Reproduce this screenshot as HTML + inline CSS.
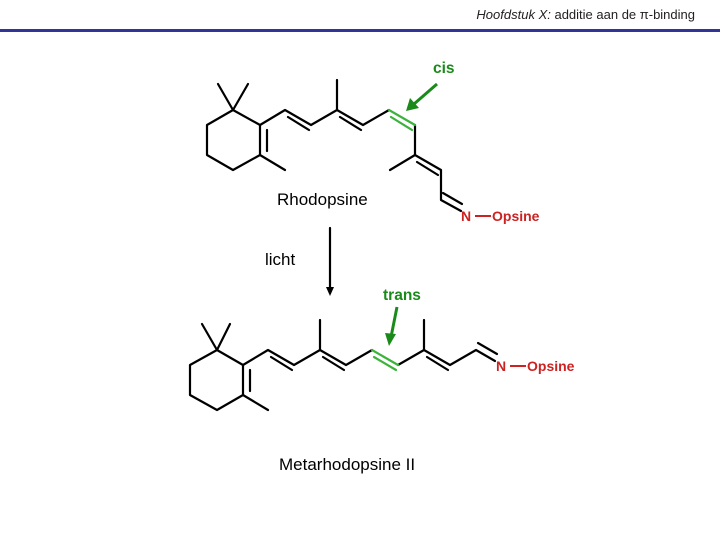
<!DOCTYPE html>
<html><head><meta charset="utf-8"><style>
html,body{margin:0;padding:0;background:#fff;}
svg{display:block;}
</style></head><body>
<svg width="720" height="540" viewBox="0 0 720 540" xmlns="http://www.w3.org/2000/svg" font-family="Liberation Sans, sans-serif">
<text x="695" y="19" font-size="13" text-anchor="end" fill="#222"><tspan font-style="italic">Hoofdstuk X:</tspan> additie aan de π-binding</text>
<rect x="0" y="29" width="720" height="3" fill="#333399"/>
<g stroke="#000" stroke-width="2.2" fill="none" stroke-linecap="round" stroke-linejoin="round">
<polyline points="218,84 233,110 248,84"/>
<polygon points="233,110 260,125 260,155 233,170 207,155 207,125"/>
<line x1="267" y1="130" x2="267" y2="151"/>
<line x1="260" y1="155" x2="285" y2="170"/>
<polyline points="260,125 285,110 311,125 337,110 363,125 389,110"/>
<line x1="337" y1="110" x2="337" y2="80"/>
<line x1="288" y1="117" x2="309" y2="130"/>
<line x1="340" y1="117" x2="361" y2="130"/>
<polyline points="415,125 415,155 441,170 441,200 461,211"/>
<line x1="415" y1="155" x2="390" y2="170"/>
<line x1="417" y1="162" x2="438" y2="175"/>
<line x1="443" y1="193" x2="462" y2="204"/>
<polyline points="202,324 217,350 230,324"/>
<polygon points="217,350 243,365 243,395 217,410 190,395 190,365"/>
<line x1="250" y1="370" x2="250" y2="391"/>
<line x1="243" y1="395" x2="268" y2="410"/>
<polyline points="243,365 268,350 294,365 320,350 346,365 372,350"/>
<line x1="320" y1="350" x2="320" y2="320"/>
<line x1="271" y1="357" x2="292" y2="370"/>
<line x1="323" y1="357" x2="344" y2="370"/>
<polyline points="398,365 424,350 450,365 476,350 495,361"/>
<line x1="424" y1="350" x2="424" y2="320"/>
<line x1="427" y1="357" x2="448" y2="370"/>
<line x1="478" y1="343" x2="497" y2="354"/>
<line x1="330" y1="228" x2="330" y2="288"/>
</g>
<polygon points="326,287 334,287 330,296" fill="#000"/>
<g stroke="#3cb33c" stroke-width="2.2" stroke-linecap="round">
<line x1="389" y1="110" x2="415" y2="125"/>
<line x1="391" y1="117" x2="412" y2="130"/>
<line x1="372" y1="350" x2="398" y2="365"/>
<line x1="374" y1="357" x2="396" y2="370"/>
</g>
<g stroke="#1a8a1a" stroke-width="3">
<line x1="437" y1="84" x2="414" y2="104"/>
<line x1="397" y1="307" x2="391" y2="337"/>
</g>
<polygon points="406,111 419,108 410,98" fill="#1a8a1a"/>
<polygon points="389,346 396,334 385,333" fill="#1a8a1a"/>
<text x="433" y="73" font-size="15.5" font-weight="bold" fill="#1a8a1a">cis</text>
<text x="383" y="300" font-size="15.5" font-weight="bold" fill="#1a8a1a">trans</text>
<text x="277" y="205" font-size="17" fill="#000">Rhodopsine</text>
<text x="265" y="265" font-size="17" fill="#000">licht</text>
<text x="279" y="470" font-size="17" fill="#000">Metarhodopsine II</text>
<g fill="#cc2222" font-size="14" font-weight="bold">
<text x="461" y="221">N</text>
<line x1="475" y1="216" x2="491" y2="216" stroke="#cc2222" stroke-width="2"/>
<text x="492" y="221">Opsine</text>
<text x="496" y="371">N</text>
<line x1="510" y1="366" x2="526" y2="366" stroke="#cc2222" stroke-width="2"/>
<text x="527" y="371">Opsine</text>
</g>
</svg>
</body></html>
